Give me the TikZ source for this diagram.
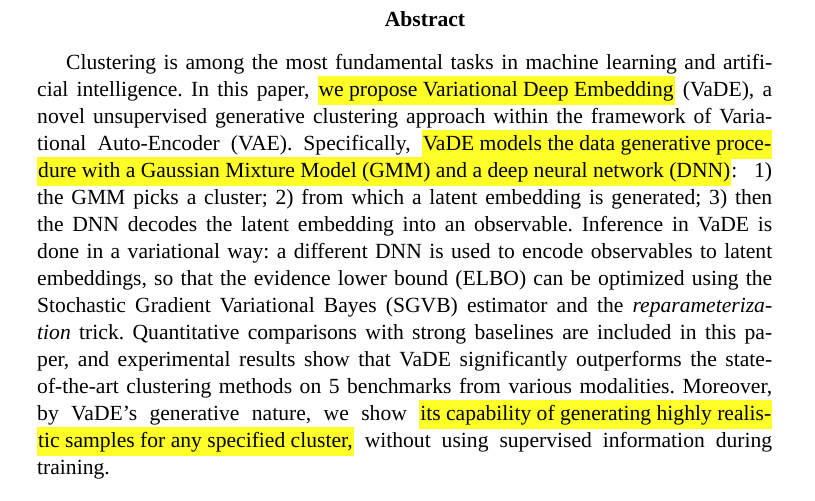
\documentclass[tikz,border=0pt]{standalone}
\usepackage{fontspec}
\setmainfont{Liberation Serif}
\definecolor{hly}{RGB}{255,255,40}
\newcommand{\hlt}[1]{{\setlength{\fboxsep}{1pt}\colorbox{hly}{\strut #1}}}
\newcommand{\jline}[2][735]{\makebox[#1pt][s]{\frenchspacing #2}}
\begin{document}
\begin{tikzpicture}[x=1pt,y=-1pt,
  txt/.style={anchor=base west,inner sep=0pt,font=\fontsize{21.6}{27}\selectfont}]
\useasboundingbox (0,0) rectangle (815,501);
\node[txt,anchor=base,font=\fontsize{21.6}{27}\selectfont\bfseries] (t) at (425,26) {Abstract};
\node[txt] (l1) at (66,69) {\jline[706]{Clustering is among the most fundamental tasks in machine learning and artifi-}};
\node[txt] (l2) at (37,96) {\jline{cial intelligence. In this paper, \hlt{we propose Variational Deep Embedding} (VaDE), a}};
\node[txt] (l3) at (37,123) {\jline{novel unsupervised generative clustering approach within the framework of Varia-}};
\node[txt] (l4) at (37,150) {\jline{tional Auto-Encoder (VAE). Specifically, \hlt{VaDE models the data generative proce-}}};
\node[txt] (l5) at (37,177) {\jline{\hlt{dure with a Gaussian Mixture Model (GMM) and a deep neural network (DNN)}: 1)}};
\node[txt] (l6) at (37,204) {\jline{the GMM picks a cluster; 2) from which a latent embedding is generated; 3) then}};
\node[txt] (l7) at (37,231) {\jline{the DNN decodes the latent embedding into an observable. Inference in VaDE is}};
\node[txt] (l8) at (37,258) {\jline{done in a variational way: a different DNN is used to encode observables to latent}};
\node[txt] (l9) at (37,285) {\jline{embeddings, so that the evidence lower bound (ELBO) can be optimized using the}};
\node[txt] (l10) at (37,312) {\jline{Stochastic Gradient Variational Bayes (SGVB) estimator and the \textit{reparameteriza-}}};
\node[txt] (l11) at (37,339) {\jline{\textit{tion} trick. Quantitative comparisons with strong baselines are included in this pa-}};
\node[txt] (l12) at (37,366) {\jline{per, and experimental results show that VaDE significantly outperforms the state-}};
\node[txt] (l13) at (37,393) {\jline{of-the-art clustering methods on 5 benchmarks from various modalities. Moreover,}};
\node[txt] (l14) at (37,420) {\jline{by VaDE's generative nature, we show \hlt{its capability of generating highly realis-}}};
\node[txt] (l15) at (37,447) {\jline{\hlt{tic samples for any specified cluster,} without using supervised information during}};
\node[txt] (l16) at (37,474) {training.};
\end{tikzpicture}
\end{document}
